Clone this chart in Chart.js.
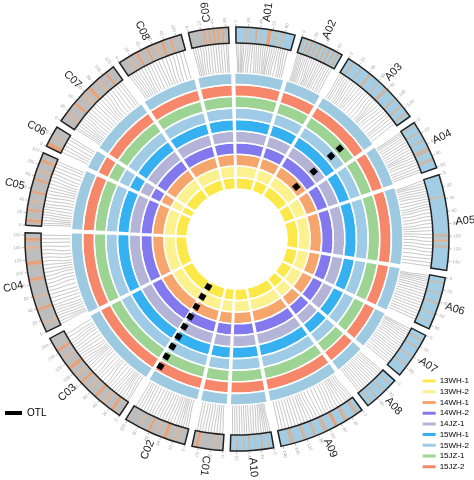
<!DOCTYPE html>
<html><head><meta charset="utf-8">
<script src="https://cdn.jsdelivr.net/npm/chart.js@4.4.1/dist/chart.umd.min.js"></script>
<style>
html,body{margin:0;padding:0;background:#fff;overflow:hidden;width:474px;height:480px;}
#wrap{position:relative;width:474px;height:480px;}
canvas{position:absolute;left:0;top:0;}
</style></head><body>
<div id="wrap">
<canvas id="rings" width="474" height="480"></canvas>
<canvas id="links" width="479" height="480"></canvas>
<canvas id="ideo" width="474" height="480"></canvas>
<canvas id="qtlKey" width="80" height="26" style="left:0;top:403px"></canvas>
</div>
<script>
// ---------------- data ----------------
const chromosomes = ['A01','A02','A03','A04','A05','A06','A07','A08','A09','A10',
                     'C01','C02','C03','C04','C05','C06','C07','C08','C09'];
const chrLength = [96,70,136,81,155,86,76,59,143,70,50,103,168,164,120,35,121,109,65];
const tickStep = 20;
const traitNames  = ['13WH-1','13WH-2','14WH-1','14WH-2','14JZ-1','15WH-1','15WH-2','15JZ-1','15JZ-2'];
const traitColors = ['#fde84a','#fbf18e','#f6a56c','#8379ef','#b4b4d9','#35b0f0','#9fcbe7','#9dd393','#f7876a'];
const mapColor = '#9dcae1';
// bands on the ideogram: [start %, end %, kind]
const chrBands = [
  [[17,20,'p'],[26,28,'g'],[34,37,'o'],[43,45,'g'],[54,61,'o'],[66,68,'g'],[71,73,'p'],[79,82,'p']],
  [[5,9,'g'],[14,17,'o'],[22,30,'g'],[35,38,'o'],[44,52,'g'],[58,61,'o'],[66,74,'g'],[80,83,'o'],[88,95,'g']],
  [[6,9,'g'],[18,20,'g'],[30,34,'g'],[45,47,'g'],[55,60,'g'],[72,75,'g'],[83,86,'g'],[93,96,'g']],
  [[5,8,'g'],[20,24,'g'],[38,42,'g'],[55,66,'g'],[78,85,'g']],
  [[22,24,'g'],[62,66,'g'],[68,71,'p'],[74,77,'g']],
  [[10,13,'g'],[30,33,'g'],[48,52,'g'],[70,73,'g'],[88,90,'g']],
  [[12,16,'g'],[30,34,'g'],[52,56,'g'],[74,78,'g']],
  [[15,20,'g'],[40,45,'g'],[65,70,'g'],[85,90,'g']],
  [[5,10,'g'],[18,24,'g'],[32,36,'o'],[44,50,'g'],[58,62,'g'],[70,75,'g'],[84,90,'g']],
  [[10,13,'g'],[25,28,'o'],[40,43,'g'],[55,58,'o'],[68,72,'p'],[84,88,'g']],
  [[30,33,'p'],[80,90,'o']],
  [[15,19,'p'],[30,36,'o'],[45,48,'p'],[58,62,'o'],[75,78,'p']],
  [[8,11,'o'],[18,21,'p'],[28,31,'o'],[38,40,'p'],[47,50,'o'],[56,58,'p'],[64,68,'o'],[76,78,'p'],[85,88,'o']],
  [[8,10,'p'],[22,25,'o'],[35,37,'p'],[52,55,'o'],[68,72,'o'],[84,87,'p'],[92,95,'o']],
  [[5,9,'o'],[20,23,'o'],[33,35,'p'],[45,48,'o'],[62,65,'o'],[75,78,'p'],[88,92,'o']],
  [[0,25,'o'],[55,60,'p']],
  [[12,15,'p'],[28,32,'o'],[45,48,'p'],[55,60,'o'],[72,75,'p'],[86,89,'o']],
  [[15,18,'p'],[28,32,'o'],[45,48,'o'],[58,62,'p'],[68,72,'o'],[82,85,'o']],
  [[38,42,'o'],[50,54,'o'],[62,66,'o'],[72,76,'o'],[84,88,'o']]
];
// links: [position on ideogram %, position on map ring %]
const chrLinks = [
  [[1,3],[4,5],[8,8],[11,10],[14,12],[18,15],[22,20],[26,24],[30,30],[34,36],[38,40],[42,44],[46,48],[50,52],[54,55],[58,58],[62,60],[66,64],[70,68],[74,72],[78,78],[82,84],[86,88],[90,92],[95,96]],
  [[2,4],[6,8],[10,12],[14,16],[19,20],[24,25],[29,32],[34,38],[40,42],[46,47],[52,52],[58,58],[64,62],[70,68],[76,75],[82,82],[88,88],[94,95]],
  [[1,2],[4,5],[7,8],[10,12],[13,15],[16,18],[20,21],[24,25],[28,28],[32,31],[36,35],[40,40],[44,45],[48,50],[52,55],[56,58],[60,60],[64,62],[68,66],[72,70],[76,75],[80,80],[84,85],[88,88],[92,92],[96,97]],
  [[2,3],[6,6],[10,10],[15,16],[20,22],[26,28],[32,34],[38,40],[44,46],[50,52],[56,56],[62,60],[68,66],[74,72],[80,80],[86,86],[92,92],[97,97]],
  [[1,2],[4,4],[7,6],[10,9],[13,12],[16,15],[19,18],[22,22],[25,26],[28,30],[31,33],[34,36],[38,40],[42,44],[46,48],[50,52],[54,55],[58,58],[62,61],[66,64],[70,68],[74,72],[78,76],[82,80],[86,85],[90,90],[94,94],[98,98]],
  [[2,4],[6,7],[10,10],[14,14],[19,18],[24,23],[29,28],[34,34],[40,40],[46,46],[52,52],[58,58],[64,64],[70,70],[76,76],[82,82],[88,88],[94,94]],
  [[3,3],[8,6],[13,10],[18,15],[24,20],[30,26],[36,32],[42,38],[48,45],[54,52],[60,58],[66,64],[72,70],[78,76],[84,83],[90,90],[96,96]],
  [[4,6],[10,12],[17,19],[24,26],[32,34],[40,42],[48,50],[56,57],[64,64],[72,72],[80,80],[88,88],[95,95]],
  [[1,3],[4,6],[7,9],[10,12],[14,14],[18,17],[22,20],[26,24],[30,28],[34,32],[38,37],[42,42],[46,47],[50,52],[54,56],[58,60],[62,63],[66,66],[70,70],[74,74],[78,78],[82,82],[86,86],[90,90],[94,94],[98,98]],
  [[3,6],[8,10],[13,14],[18,18],[24,22],[30,27],[36,33],[42,40],[48,47],[54,54],[60,60],[66,66],[72,72],[78,78],[84,85],[90,91],[96,97]],
  [[5,8],[15,16],[25,24],[35,32],[45,42],[55,52],[65,62],[75,72],[85,84],[94,94]],
  [[2,4],[6,8],[10,12],[14,15],[18,18],[22,22],[27,26],[32,30],[37,35],[42,40],[47,45],[52,50],[57,55],[62,60],[67,66],[72,72],[77,78],[82,83],[87,88],[92,92],[97,97]],
  [[1,2],[3,5],[6,8],[9,10],[12,12],[15,14],[18,17],[21,20],[24,24],[27,28],[30,32],[34,35],[38,38],[41,42],[44,46],[48,50],[52,53],[55,56],[58,58],[61,60],[64,62],[67,65],[70,68],[73,72],[76,76],[79,80],[82,84],[85,87],[88,90],[92,93],[96,97]],
  [[1,2],[4,4],[7,6],[10,9],[13,12],[16,15],[19,18],[22,22],[26,26],[30,30],[34,34],[38,39],[42,44],[46,48],[50,52],[54,56],[58,59],[62,62],[66,65],[70,68],[74,72],[78,76],[82,80],[86,85],[90,90],[94,94],[98,98]],
  [[2,3],[5,6],[9,9],[13,12],[17,16],[21,20],[25,25],[29,30],[33,35],[38,40],[43,45],[48,50],[53,54],[58,58],[63,62],[68,66],[73,71],[78,76],[83,82],[88,88],[93,93],[97,97]],
  [[8,10],[25,25],[42,40],[60,58],[78,78],[92,92]],
  [[2,3],[5,6],[9,9],[13,12],[17,15],[21,19],[25,23],[29,28],[33,33],[38,38],[43,43],[48,48],[53,53],[58,57],[63,61],[68,65],[73,70],[78,76],[83,82],[88,88],[93,93],[97,97]],
  [[2,4],[6,8],[10,12],[14,16],[19,20],[24,24],[29,28],[34,33],[39,38],[44,44],[49,50],[54,55],[60,60],[66,65],[72,70],[78,76],[84,82],[90,89],[96,96]],
  [[3,5],[9,10],[15,15],[22,20],[29,26],[36,33],[43,40],[50,48],[57,56],[64,64],[71,71],[78,78],[85,86],[92,93],[97,97]]
];
// QTL: chromosome, position (units), traits (index in traitNames) carrying it
const qtlChr = ['A03','C02'];
const qtlPos = [100, 99];
const qtlTraits = [[7,6,4,2],[0,1,2,3,4,5,6,7,8]];

// ---------------- geometry / styling ----------------
Chart.defaults.font.family = "'Liberation Sans', Arial, sans-serif";
const CX = 237, CY = 239;
const R_OUT = 212, R_IDEO_IN = 196, R_RING_OUT = 166, RING_W = 11.6, R_IN = 50;
const gapDeg = 2, startDeg = -0.3, ringGapDeg = 0.9;
const TRANSPARENT = 'rgba(0,0,0,0)';

const totalLen = chrLength.reduce((a,b)=>a+b,0);
const unitsPerDeg = totalLen / (360 - chromosomes.length*gapDeg);
const gapUnits = gapDeg*unitsPerDeg;
const chrStartDeg = [];
{ let acc = startDeg; chrLength.forEach(l=>{ chrStartDeg.push(acc); acc += l/unitsPerDeg + gapDeg; }); }
const posDeg = (i,u) => chrStartDeg[i] + u/unitsPerDeg;
const polar = (r,deg) => { const t = deg*Math.PI/180; return {x: r*Math.sin(t), y: r*Math.cos(t)}; };

// ---------- chart 1: ideogram bands + trait rings ----------
const bandColor = {o:'#e6a27b', p:'#dcb497', g:'#c6b8aa'};
const ideoData = [], ideoBg = [];
chromosomes.forEach((c,i)=>{
  const base = c[0]==='A' ? '#a3cde4' : '#bdbdbd';
  let cur = 0;
  chrBands[i].forEach(([s,e,k])=>{
    const su = s/100*chrLength[i], eu = e/100*chrLength[i];
    if (su > cur) { ideoData.push(su-cur); ideoBg.push(base); }
    ideoData.push(eu-Math.max(su,cur)); ideoBg.push(bandColor[k]); cur = eu;
  });
  if (cur < chrLength[i]) { ideoData.push(chrLength[i]-cur); ideoBg.push(base); }
  ideoData.push(gapUnits); ideoBg.push(TRANSPARENT);
});
const ringGapUnits = ringGapDeg*unitsPerDeg;
const ringData = chrLength.flatMap(l => [l + gapUnits - ringGapUnits, ringGapUnits]);
const ringRotation = startDeg - (gapDeg - ringGapDeg)/2;
const ringDataset = (color,label) => ({
  label, data: ringData, weight: RING_W, rotation: ringRotation,
  backgroundColor: ringData.map((v,j)=> j%2 ? TRANSPARENT : color),
  borderColor: '#ffffff', borderWidth: ringData.map((v,j)=> j%2 ? 0 : 1.6)
});
const ringDatasets = [
  {label:'ideogram', data: ideoData, backgroundColor: ideoBg, borderColor: ideoBg, borderWidth: 0.5,
   weight: R_OUT-R_IDEO_IN, rotation: startDeg},
  {label:'space', data:[1], backgroundColor: TRANSPARENT, borderWidth: 0, weight: R_IDEO_IN-R_RING_OUT},
  ringDataset(mapColor,'map')
];
for (let k = traitNames.length-1; k >= 0; k--) ringDatasets.push(ringDataset(traitColors[k], traitNames[k]));

new Chart(document.getElementById('rings'), {
  type: 'doughnut',
  data: { labels: ringData.map((v,j)=>String(j)), datasets: ringDatasets },
  options: {
    responsive:false, animation:false, events:[], devicePixelRatio:1,
    radius: R_OUT, cutout: (R_IN/R_OUT*100)+'%',
    layout:{padding:{bottom:2}},
    plugins:{legend:{display:false}, tooltip:{enabled:false}}
  }
});

// ---------- chart 2: links + QTL marks + legend ----------
const linkDatasets = [];
chromosomes.forEach((c,i)=>{
  chrLinks[i].forEach(([p,g])=>{
    const ap = posDeg(i, p/100*chrLength[i]), ag = posDeg(i, g/100*chrLength[i]);
    linkDatasets.push({
      data:[polar(R_IDEO_IN-0.5,ap), polar(188,ap), polar(175,ag), polar(R_RING_OUT+0.5,ag)],
      showLine:true, pointRadius:0, borderColor:'rgba(130,130,130,0.58)', borderWidth:0.8,
      tension:0.45, fill:false, clip:false
    });
  });
});
const qtlPoints = [], qtlRot = [];
qtlChr.forEach((c,q)=>{
  const i = chromosomes.indexOf(c);
  const a = posDeg(i, qtlPos[q]);
  qtlTraits[q].forEach(k=>{ qtlPoints.push(polar(R_IN + RING_W*(k+0.5), a)); qtlRot.push(a); });
});
linkDatasets.push({
  label:'QTL', data:qtlPoints, showLine:false, pointStyle:'rect', pointRadius:4.3,
  pointRotation:qtlRot, pointBackgroundColor:'#000', pointBorderWidth:0, borderWidth:0, clip:false
});

const linkChart = new Chart(document.getElementById('links'), {
  type: 'scatter',
  data: { datasets: linkDatasets },
  options: {
    responsive:false, animation:false, events:[], devicePixelRatio:1,
    layout:{autoPadding:false, padding:{bottom:6.6}},
    scales:{ x:{type:'linear', display:false, min:-237, max:180},
             y:{type:'linear', display:false, min:-234, max:239} },
    plugins:{
      tooltip:{enabled:false},
      legend:{
        display:true, position:'right', align:'end',
        labels:{
          boxWidth:13, boxHeight:3, padding:2.7, color:'#333',
          font:{size:8},
          generateLabels: () => traitNames.map((t,i)=>({text:t, fillStyle:traitColors[i], strokeStyle:traitColors[i], lineWidth:0, hidden:false, datasetIndex:i}))
        }
      }
    }
  }
});
{
  const ca = linkChart.chartArea;
  linkChart.options.scales.x.min = ca.left - CX;
  linkChart.options.scales.x.max = ca.right - CX;
  linkChart.options.scales.y.max = CY - ca.top;
  linkChart.options.scales.y.min = CY - ca.bottom;
  linkChart.update('none');
}

// ---------- chart 3: ideogram outline, ticks, chromosome names ----------
const outlineData = chrLength.flatMap(l => [l, gapUnits]);
const labelPlugin = {
  id:'chrLabels',
  afterDraw(chart){
    const meta = chart.getDatasetMeta(0), ctx = chart.ctx;
    chromosomes.forEach((name,i)=>{
      const arc = meta.data[2*i];
      const {x,y,startAngle,endAngle,outerRadius} = arc.getProps(['x','y','startAngle','endAngle','outerRadius'], true);
      const span = endAngle - startAngle;
      const mid = (startAngle+endAngle)/2;
      let cw = (mid*180/Math.PI + 90) % 360; if (cw < 0) cw += 360;
      const flip = cw > 190 && cw < 345;
      // ticks
      ctx.save();
      ctx.strokeStyle = '#8a8a8a'; ctx.lineWidth = 0.6; ctx.fillStyle = '#a8a8a8';
      ctx.font = "4.5px 'Liberation Sans', Arial, sans-serif"; ctx.textBaseline = 'middle';
      for (let u = 0; u <= chrLength[i]; u += tickStep) {
        const a = startAngle + span*u/chrLength[i];
        const c = Math.cos(a), s = Math.sin(a);
        ctx.beginPath();
        ctx.moveTo(x + (outerRadius+0.8)*c, y + (outerRadius+0.8)*s);
        ctx.lineTo(x + (outerRadius+3)*c, y + (outerRadius+3)*s);
        ctx.stroke();
        ctx.save();
        ctx.translate(x + (outerRadius+4.5)*c, y + (outerRadius+4.5)*s);
        ctx.rotate(flip ? a+Math.PI : a);
        ctx.textAlign = flip ? 'right' : 'left';
        ctx.fillText(String(u), 0, 0);
        ctx.restore();
      }
      ctx.restore();
      // name
      ctx.save();
      ctx.translate(x + 229*Math.cos(mid), y + 229*Math.sin(mid));
      ctx.rotate(flip ? mid+Math.PI : mid);
      ctx.textAlign = 'center'; ctx.textBaseline = 'middle';
      ctx.fillStyle = '#222'; ctx.font = "11px 'Liberation Sans', Arial, sans-serif";
      ctx.fillText(name, 0, 0);
      ctx.restore();
    });
  }
};
new Chart(document.getElementById('ideo'), {
  type: 'doughnut',
  data: { labels: outlineData.map((v,j)=>String(j)), datasets: [{
    data: outlineData, rotation: startDeg, backgroundColor: TRANSPARENT,
    borderColor: outlineData.map((v,j)=> j%2 ? TRANSPARENT : '#222222'),
    borderWidth: outlineData.map((v,j)=> j%2 ? 0 : 1.5), borderJoinStyle:'miter'
  }]},
  options: {
    responsive:false, animation:false, events:[], devicePixelRatio:1,
    radius: R_OUT, cutout: (R_IDEO_IN/R_OUT*100)+'%',
    layout:{padding:{bottom:2}},
    plugins:{legend:{display:false}, tooltip:{enabled:false}}
  },
  plugins:[labelPlugin]
});

// ---------- chart 4: QTL key ----------
new Chart(document.getElementById('qtlKey'), {
  type:'scatter',
  data:{datasets:[{label:'QTL', data:[], backgroundColor:'#000', borderWidth:0}]},
  options:{
    responsive:false, animation:false, events:[], devicePixelRatio:1,
    scales:{x:{display:false}, y:{display:false}},
    plugins:{tooltip:{enabled:false},
      legend:{display:true, position:'top', align:'start',
        labels:{boxWidth:17, boxHeight:4, padding:5, color:'#222', font:{size:10},
          generateLabels: () => [{text:'QTL', fillStyle:'#000', strokeStyle:'#000', lineWidth:0, hidden:false, datasetIndex:0}]}}}
  }
});
</script>
</body></html>
